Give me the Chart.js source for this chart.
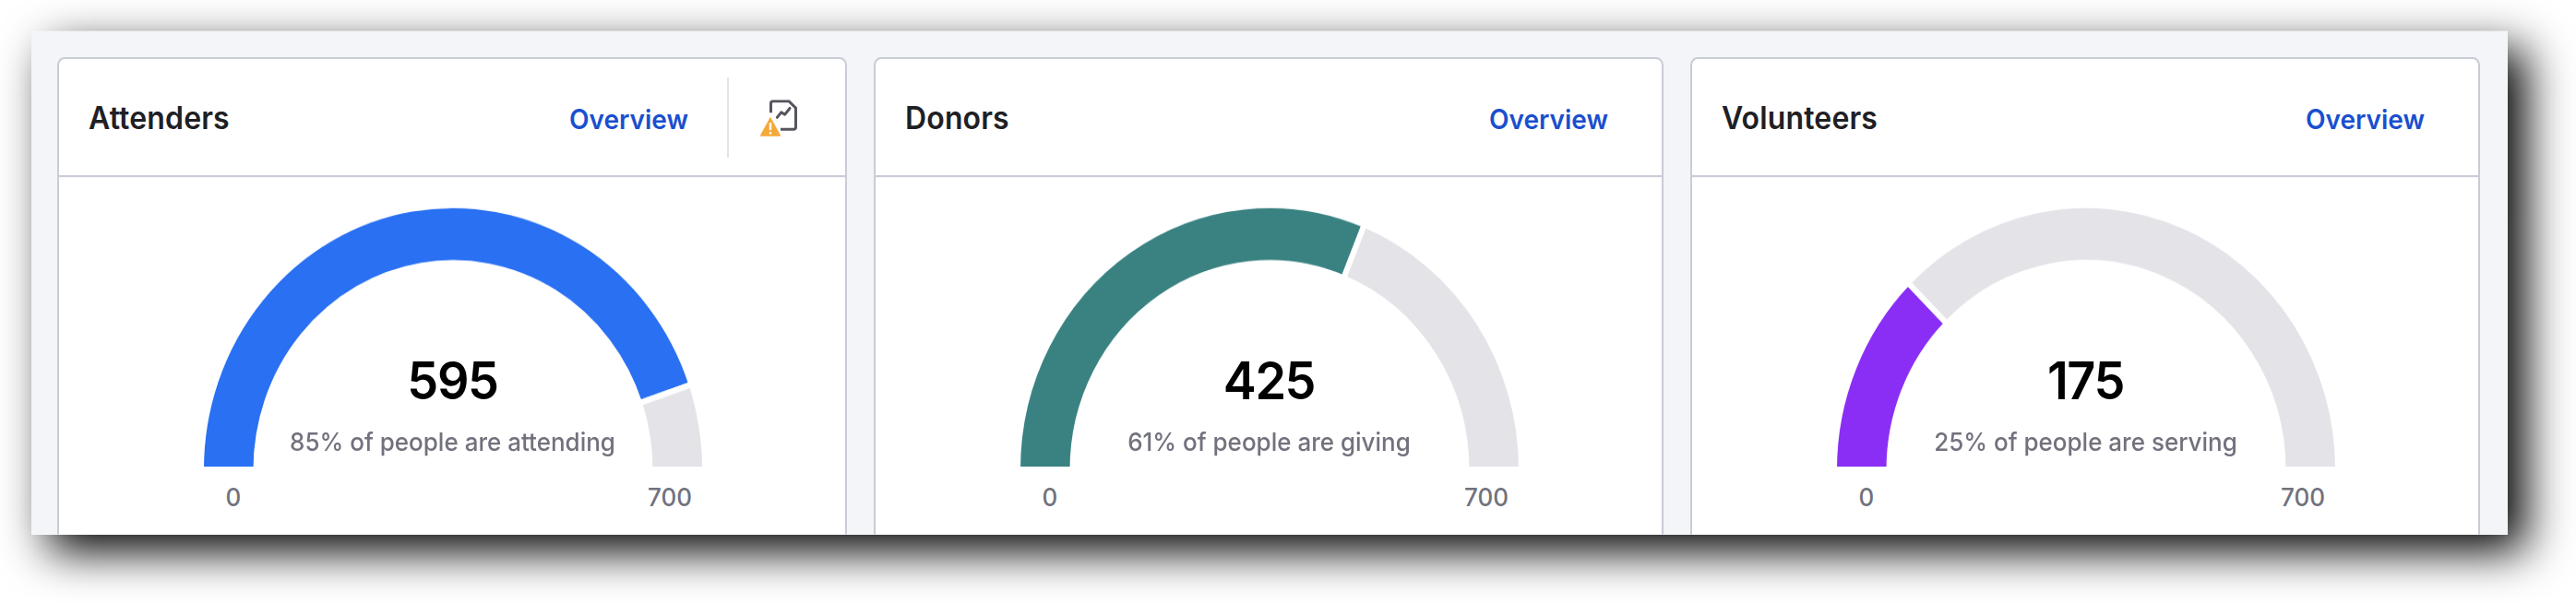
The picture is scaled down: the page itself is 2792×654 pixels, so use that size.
<!DOCTYPE html>
<html>
<head>
<meta charset="utf-8">
<title>Engagement gauges</title>
<script src="https://cdn.jsdelivr.net/npm/chart.js@4"></script>
<style>
html, body { margin: 0; padding: 0; background: #fff; overflow: hidden; }
body { width: 2792px; height: 654px; font-family: Inter, sans-serif; }
/* the reference is stretched a bit vertically, so the whole page is too */
#page { position: absolute; left: 0; top: 0; width: 2792px; height: 623px; transform: scaleY(1.05); transform-origin: 0 0; }
#panel, #shadow { position: absolute; left: 34px; top: 32.38px; width: 2684px; height: 520px; }
#panel { background: #f4f5f9; overflow: hidden; }
#shadow { box-shadow: 19px 18px 46px #000; }
.card { position: absolute; top: 27px; width: 852px; height: 600px; background: #fff; border: 2px solid #c9cbd5; border-radius: 8px; }
.head { position: absolute; left: 0; right: 0; top: 0; height: 119.6px; border-bottom: 2px solid #c9cbd5; }
.title { position: absolute; left: 32px; top: 43px; font-size: 32px; line-height: 36px; font-weight: 600; letter-spacing: .15px; color: #1f2024; }
.link { position: absolute; top: 44px; right: 58px; font-size: 28px; line-height: 36px; font-weight: 600; color: #1a4fcf; }
.card.first .link { right: 170px; }
.divider { position: absolute; left: 724px; top: 18.6px; width: 2px; height: 83.5px; background: #e3e3ea; }
.icon { position: absolute; left: 760px; top: 41.4px; width: 40px; height: 37.8px; }
.gauge { position: absolute; left: 148px; top: 147.2px; width: 558px; height: 279px; z-index: 1; }
.value, .note { position: absolute; left: 0; width: 853px; text-align: center; z-index: 2; }
.value { top: 299px; font-size: 54px; line-height: 66px; font-weight: 600; letter-spacing: -1.4px; color: #000; }
.note { top: 378px; font-size: 26px; line-height: 36px; font-weight: 500; color: #71727d; }
.tick { position: absolute; top: 435px; width: 80px; text-align: center; font-size: 26px; line-height: 36px; font-weight: 500; color: #71727d; z-index: 2; }
</style>
</head>
<body>
<div id="page">
  <div id="shadow"></div>
  <div id="panel"></div>
</div>
<script>
const titles = ["Attenders", "Donors", "Volunteers"];
const centerValues = [595, 425, 175];
const notes = ["85% of people are attending", "61% of people are giving", "25% of people are serving"];
// arc lengths as drawn in the picture, on the 0 to 700 scale
const filled = [627, 436, 175];
const rest = [73, 264, 525];
const fillColors = ["#2970f2", "#3a8282", "#8a2ef5"];
const restColor = "#e4e3e8";
const tickLabels = ["0", "700"];
const linkLabel = "Overview";

const panel = document.getElementById("panel");
const cardLefts = [28, 913, 1798];

titles.forEach((title, i) => {
    const card = document.createElement("div");
    card.className = "card" + (i === 0 ? " first" : "");
    card.style.left = cardLefts[i] + "px";
    card.innerHTML = `
      <div class="head">
        <div class="title">${title}</div>
        <div class="link">${linkLabel}</div>
        ${i === 0 ? `<div class="divider"></div>
        <svg class="icon" viewBox="0 0 40 39.7" preserveAspectRatio="none">
          <path d="M11.5 14 V4 a2.5 2.5 0 0 1 2.5-2.5 H31 l7.5 7.5 V29.5 a2.5 2.5 0 0 1-2.5 2.5 H22" fill="none" stroke="#55555f" stroke-width="3"/>
          <path d="M18.3 19.3 L22.7 13.7 L26.7 16 L32 9.3" fill="none" stroke="#55555f" stroke-width="3" stroke-linecap="round" stroke-linejoin="round"/>
          <path d="M11 18.7 L22 38.5 Q22 39.7 21 39.7 H1 Q0 39.7 0 38.5 Z" fill="#f5a937"/>
          <rect x="9.8" y="25" width="2.4" height="8" fill="#fff"/>
          <rect x="9.8" y="35" width="2.4" height="2.4" fill="#fff"/>
        </svg>` : ""}
      </div>
      <div class="gauge"><canvas></canvas></div>
      <div class="value">${centerValues[i]}</div>
      <div class="note">${notes[i]}</div>
      <div class="tick" style="left:${427 - 238 - 40}px">${tickLabels[0]}</div>
      <div class="tick" style="left:${427 + 235 - 40}px">${tickLabels[1]}</div>`;
    panel.appendChild(card);

    new Chart(card.querySelector("canvas"), {
        type: "doughnut",
        data: {
            labels: ["Filled", "Rest"],
            datasets: [{
                data: [filled[i], rest[i]],
                backgroundColor: [fillColors[i], restColor],
                borderColor: "#ffffff",
                borderWidth: 6,
            }],
        },
        options: {
            responsive: true,
            maintainAspectRatio: false,
            animation: false,
            rotation: -90,
            circumference: 180,
            cutout: "78.2%",
            plugins: { legend: { display: false }, tooltip: { enabled: false } },
        },
    });
});
</script>
</body>
</html>
